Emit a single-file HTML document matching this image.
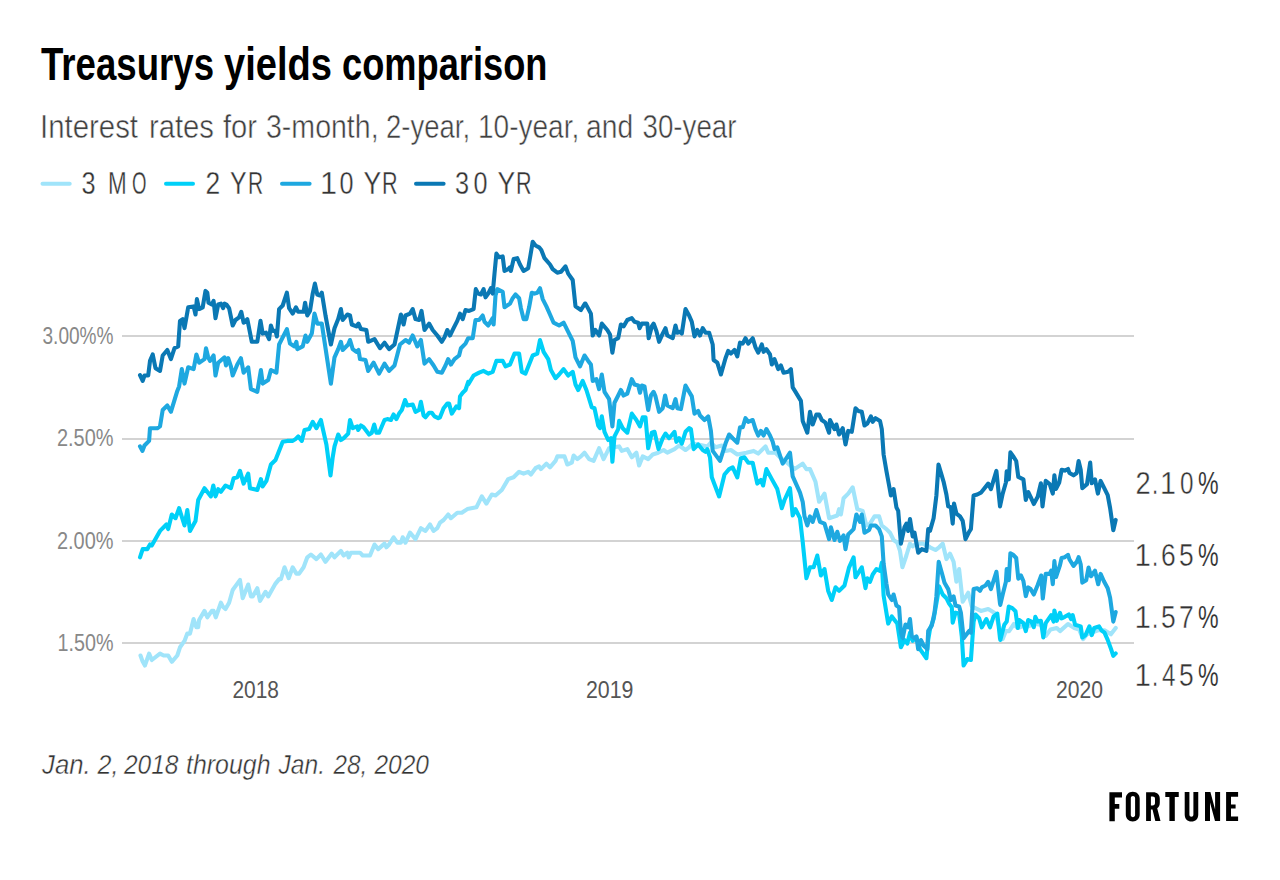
<!DOCTYPE html>
<html><head><meta charset="utf-8">
<style>
html,body{margin:0;padding:0;background:#fff;width:1280px;height:880px;overflow:hidden}
svg{display:block}
text{font-family:"Liberation Sans",sans-serif}
</style></head><body>
<svg width="1280" height="880" viewBox="0 0 1280 880">
<rect width="1280" height="880" fill="#fff"/>
<g stroke-width="4" stroke-linecap="round">
<line x1="42.5" y1="183.7" x2="69.7" y2="183.7" stroke="#a0e4fa"/>
<line x1="166" y1="183.7" x2="193" y2="183.7" stroke="#00d0f8"/>
<line x1="282" y1="183.7" x2="309.6" y2="183.7" stroke="#1ea8e0"/>
<line x1="416" y1="183.7" x2="443.6" y2="183.7" stroke="#0a78b4"/>
</g>
<g fill="#d3d3d3">
<rect x="122" y="335" width="1012" height="2"/>
<rect x="122" y="438" width="1012" height="2"/>
<rect x="122" y="540" width="1012" height="2"/>
<rect x="122" y="642" width="1012" height="2"/>
</g>
<text x="41.0" y="80.0" font-size="46.4" font-weight="bold" fill="#000" textLength="173.0" lengthAdjust="spacingAndGlyphs">Treasurys</text>
<text x="224.0" y="80.0" font-size="46.4" font-weight="bold" fill="#000" textLength="108.0" lengthAdjust="spacingAndGlyphs">yields</text>
<text x="342.0" y="80.0" font-size="46.4" font-weight="bold" fill="#000" textLength="205.5" lengthAdjust="spacingAndGlyphs">comparison</text>
<text x="40.0" y="137.8" font-size="32.5" fill="#404040" stroke="#fff" stroke-width="0.5" textLength="98.0" lengthAdjust="spacingAndGlyphs">Interest</text>
<text x="149.0" y="137.8" font-size="32.5" fill="#404040" stroke="#fff" stroke-width="0.5" textLength="65.0" lengthAdjust="spacingAndGlyphs">rates</text>
<text x="223.0" y="137.8" font-size="32.5" fill="#404040" stroke="#fff" stroke-width="0.5" textLength="34.0" lengthAdjust="spacingAndGlyphs">for</text>
<text x="266.0" y="137.8" font-size="32.5" fill="#404040" stroke="#fff" stroke-width="0.5" textLength="112.6" lengthAdjust="spacingAndGlyphs">3-month,</text>
<text x="386.0" y="137.8" font-size="32.5" fill="#404040" stroke="#fff" stroke-width="0.5" textLength="84.1" lengthAdjust="spacingAndGlyphs">2-year,</text>
<text x="478.0" y="137.8" font-size="32.5" fill="#404040" stroke="#fff" stroke-width="0.5" textLength="101.2" lengthAdjust="spacingAndGlyphs">10-year,</text>
<text x="586.0" y="137.8" font-size="32.5" fill="#404040" stroke="#fff" stroke-width="0.5" textLength="47.1" lengthAdjust="spacingAndGlyphs">and</text>
<text x="642.5" y="137.8" font-size="32.5" fill="#404040" stroke="#fff" stroke-width="0.5" textLength="94.0" lengthAdjust="spacingAndGlyphs">30-year</text>
<text x="81.5" y="193.9" font-size="31.7" fill="#333" stroke="#fff" stroke-width="0.35" textLength="14.1" lengthAdjust="spacingAndGlyphs">3</text>
<text x="108.0" y="193.9" font-size="31.7" fill="#333" stroke="#fff" stroke-width="0.35" textLength="18.7" lengthAdjust="spacingAndGlyphs">M</text>
<text x="132.0" y="193.9" font-size="31.7" fill="#333" stroke="#fff" stroke-width="0.35" textLength="14.5" lengthAdjust="spacingAndGlyphs">O</text>
<text x="205.5" y="193.9" font-size="31.7" fill="#333" stroke="#fff" stroke-width="0.35" textLength="14.7" lengthAdjust="spacingAndGlyphs">2</text>
<text x="230.0" y="193.9" font-size="31.7" fill="#333" stroke="#fff" stroke-width="0.35" textLength="16.6" lengthAdjust="spacingAndGlyphs">Y</text>
<text x="248.0" y="193.9" font-size="31.7" fill="#333" stroke="#fff" stroke-width="0.35" textLength="15.2" lengthAdjust="spacingAndGlyphs">R</text>
<text x="320.0" y="193.9" font-size="31.7" fill="#333" stroke="#fff" stroke-width="0.35" textLength="17.0" lengthAdjust="spacingAndGlyphs">1</text>
<text x="339.5" y="193.9" font-size="31.7" fill="#333" stroke="#fff" stroke-width="0.35" textLength="14.0" lengthAdjust="spacingAndGlyphs">0</text>
<text x="363.5" y="193.9" font-size="31.7" fill="#333" stroke="#fff" stroke-width="0.35" textLength="17.7" lengthAdjust="spacingAndGlyphs">Y</text>
<text x="382.0" y="193.9" font-size="31.7" fill="#333" stroke="#fff" stroke-width="0.35" textLength="15.6" lengthAdjust="spacingAndGlyphs">R</text>
<text x="455.0" y="193.9" font-size="31.7" fill="#333" stroke="#fff" stroke-width="0.35" textLength="14.1" lengthAdjust="spacingAndGlyphs">3</text>
<text x="473.5" y="193.9" font-size="31.7" fill="#333" stroke="#fff" stroke-width="0.35" textLength="14.0" lengthAdjust="spacingAndGlyphs">0</text>
<text x="497.5" y="193.9" font-size="31.7" fill="#333" stroke="#fff" stroke-width="0.35" textLength="17.7" lengthAdjust="spacingAndGlyphs">Y</text>
<text x="516.0" y="193.9" font-size="31.7" fill="#333" stroke="#fff" stroke-width="0.35" textLength="15.6" lengthAdjust="spacingAndGlyphs">R</text>
<text x="42.5" y="343.6" font-size="23.5" fill="#888" textLength="71.0" lengthAdjust="spacingAndGlyphs">3.00%%</text>
<text x="57.0" y="446.2" font-size="23.5" fill="#888" textLength="56.5" lengthAdjust="spacingAndGlyphs">2.50%</text>
<text x="57.0" y="548.9" font-size="23.5" fill="#888" textLength="56.5" lengthAdjust="spacingAndGlyphs">2.00%</text>
<text x="57.5" y="650.7" font-size="23.5" fill="#888" textLength="56.0" lengthAdjust="spacingAndGlyphs">1.50%</text>
<text x="232.5" y="698.0" font-size="24.7" fill="#555" textLength="46.5" lengthAdjust="spacingAndGlyphs">2018</text>
<text x="586.0" y="698.0" font-size="24.7" fill="#555" textLength="47.5" lengthAdjust="spacingAndGlyphs">2019</text>
<text x="1056.0" y="698.0" font-size="24.7" fill="#555" textLength="47.0" lengthAdjust="spacingAndGlyphs">2020</text>
<text x="1135.5" y="494.0" font-size="30.5" fill="#333" stroke="#fff" stroke-width="0.4" textLength="15.2" lengthAdjust="spacingAndGlyphs">2</text>
<text x="1152.0" y="494.0" font-size="30.5" fill="#333" stroke="#fff" stroke-width="0.4" textLength="6.2" lengthAdjust="spacingAndGlyphs">.</text>
<text x="1160.0" y="494.0" font-size="30.5" fill="#333" stroke="#fff" stroke-width="0.4" textLength="15.9" lengthAdjust="spacingAndGlyphs">1</text>
<text x="1180.0" y="494.0" font-size="30.5" fill="#333" stroke="#fff" stroke-width="0.4" textLength="13.5" lengthAdjust="spacingAndGlyphs">0</text>
<text x="1198.0" y="494.0" font-size="30.5" fill="#333" stroke="#fff" stroke-width="0.1" textLength="20.6" lengthAdjust="spacingAndGlyphs">%</text>
<text x="1134.5" y="566.4" font-size="30.5" fill="#333" stroke="#fff" stroke-width="0.4" textLength="16.4" lengthAdjust="spacingAndGlyphs">1</text>
<text x="1152.0" y="566.4" font-size="30.5" fill="#333" stroke="#fff" stroke-width="0.4" textLength="6.2" lengthAdjust="spacingAndGlyphs">.</text>
<text x="1161.0" y="566.4" font-size="30.5" fill="#333" stroke="#fff" stroke-width="0.4" textLength="14.7" lengthAdjust="spacingAndGlyphs">6</text>
<text x="1179.0" y="566.4" font-size="30.5" fill="#333" stroke="#fff" stroke-width="0.4" textLength="14.7" lengthAdjust="spacingAndGlyphs">5</text>
<text x="1198.0" y="566.4" font-size="30.5" fill="#333" stroke="#fff" stroke-width="0.1" textLength="20.6" lengthAdjust="spacingAndGlyphs">%</text>
<text x="1134.5" y="627.6" font-size="30.5" fill="#333" stroke="#fff" stroke-width="0.4" textLength="16.4" lengthAdjust="spacingAndGlyphs">1</text>
<text x="1152.0" y="627.6" font-size="30.5" fill="#333" stroke="#fff" stroke-width="0.4" textLength="6.2" lengthAdjust="spacingAndGlyphs">.</text>
<text x="1161.0" y="627.6" font-size="30.5" fill="#333" stroke="#fff" stroke-width="0.4" textLength="14.7" lengthAdjust="spacingAndGlyphs">5</text>
<text x="1179.0" y="627.6" font-size="30.5" fill="#333" stroke="#fff" stroke-width="0.4" textLength="14.7" lengthAdjust="spacingAndGlyphs">7</text>
<text x="1198.0" y="627.6" font-size="30.5" fill="#333" stroke="#fff" stroke-width="0.1" textLength="20.6" lengthAdjust="spacingAndGlyphs">%</text>
<text x="1134.5" y="685.8" font-size="30.5" fill="#333" stroke="#fff" stroke-width="0.4" textLength="16.4" lengthAdjust="spacingAndGlyphs">1</text>
<text x="1152.0" y="685.8" font-size="30.5" fill="#333" stroke="#fff" stroke-width="0.4" textLength="6.2" lengthAdjust="spacingAndGlyphs">.</text>
<text x="1162.0" y="685.8" font-size="30.5" fill="#333" stroke="#fff" stroke-width="0.4" textLength="13.5" lengthAdjust="spacingAndGlyphs">4</text>
<text x="1179.0" y="685.8" font-size="30.5" fill="#333" stroke="#fff" stroke-width="0.4" textLength="14.7" lengthAdjust="spacingAndGlyphs">5</text>
<text x="1198.0" y="685.8" font-size="30.5" fill="#333" stroke="#fff" stroke-width="0.1" textLength="20.6" lengthAdjust="spacingAndGlyphs">%</text>
<text x="42.0" y="773.8" font-size="27.6" font-style="italic" fill="#333" stroke="#fff" stroke-width="0.4" textLength="48.7" lengthAdjust="spacingAndGlyphs">Jan.</text>
<text x="97.5" y="773.8" font-size="27.6" font-style="italic" fill="#333" stroke="#fff" stroke-width="0.4" textLength="20.9" lengthAdjust="spacingAndGlyphs">2,</text>
<text x="124.0" y="773.8" font-size="27.6" font-style="italic" fill="#333" stroke="#fff" stroke-width="0.4" textLength="54.5" lengthAdjust="spacingAndGlyphs">2018</text>
<text x="186.0" y="773.8" font-size="27.6" font-style="italic" fill="#333" stroke="#fff" stroke-width="0.4" textLength="84.5" lengthAdjust="spacingAndGlyphs">through</text>
<text x="278.5" y="773.8" font-size="27.6" font-style="italic" fill="#333" stroke="#fff" stroke-width="0.4" textLength="46.6" lengthAdjust="spacingAndGlyphs">Jan.</text>
<text x="333.5" y="773.8" font-size="27.6" font-style="italic" fill="#333" stroke="#fff" stroke-width="0.4" textLength="33.7" lengthAdjust="spacingAndGlyphs">28,</text>
<text x="374.5" y="773.8" font-size="27.6" font-style="italic" fill="#333" stroke="#fff" stroke-width="0.4" textLength="54.5" lengthAdjust="spacingAndGlyphs">2020</text>
<path d="M140.5,655.5 L142.4,660.9 L144.9,665.5 L149.1,653.6 L151.8,660.0 L160.0,653.6 L163.6,655.5 L168.2,655.5 L171.8,661.8 L177.3,655.5 L180.0,647.3 L184.5,640.9 L187.3,633.6 L190.0,633.6 L193.6,619.1 L196.4,627.3 L198.2,627.3 L199.1,620.0 L204.5,610.9 L207.3,617.3 L211.8,610.9 L213.6,610.9 L215.8,617.3 L220.9,602.7 L222.7,606.4 L225.5,609.1 L229.1,602.7 L232.7,590.0 L237.3,583.6 L240.0,580.0 L242.7,598.2 L248.2,584.5 L250.9,596.4 L252.7,596.4 L257.3,588.2 L260.0,600.9 L265.5,591.8 L268.2,596.4 L275.5,583.6 L279.1,579.1 L280.9,579.1 L284.5,567.3 L288.7,578.2 L292.7,567.3 L296.4,573.6 L299.1,573.6 L303.6,567.3 L307.3,557.3 L310.9,554.5 L316.4,559.1 L320.9,554.5 L325.5,561.8 L331.8,553.6 L334.5,557.3 L340.9,550.9 L343.6,555.5 L347.3,552.7 L348.7,557.3 L350.9,552.7 L360.0,552.7 L362.7,555.5 L370.0,555.5 L374.5,544.5 L378.2,549.1 L384.5,543.6 L386.4,547.3 L389.1,544.5 L393.6,537.3 L397.3,542.7 L400.9,542.7 L402.7,537.3 L405.5,542.7 L410.0,532.7 L415.5,539.1 L420.9,528.2 L425.5,530.9 L430.0,524.5 L433.6,530.9 L437.3,528.2 L440.0,522.7 L443.6,520.0 L448.2,514.5 L450.9,518.2 L457.3,512.7 L461.8,512.7 L467.3,509.1 L476.4,507.3 L481.8,496.4 L486.4,503.6 L491.8,494.5 L495.5,495.5 L501.8,490.0 L508.2,479.1 L513.6,477.3 L519.1,471.8 L523.6,473.6 L528.2,471.8 L530.9,474.5 L535.5,468.2 L539.1,466.4 L540.9,469.1 L546.4,463.6 L550.0,467.3 L555.5,460.9 L557.3,456.4 L564.5,456.4 L567.3,464.5 L571.8,462.7 L573.6,455.5 L577.3,459.1 L580.9,456.4 L584.5,452.7 L589.1,459.1 L593.6,460.9 L599.1,448.2 L603.6,459.1 L609.1,448.2 L613.6,447.3 L619.1,446.4 L621.8,450.9 L627.3,449.1 L631.8,457.3 L636.4,452.7 L639.1,465.5 L642.7,456.4 L648.2,459.1 L652.7,454.5 L658.2,452.7 L663.6,450.0 L667.3,452.7 L674.5,449.1 L679.1,445.5 L685.5,450.0 L689.1,447.3 L692.7,443.6 L698.2,444.5 L707.3,446.4 L710.9,442.7 L715.5,447.3 L721.8,445.5 L725.5,450.9 L730.9,450.0 L737.3,454.5 L746.4,452.7 L753.6,450.9 L758.2,453.6 L765.5,446.4 L768.2,452.7 L775.5,452.7 L780.9,458.2 L788.2,463.6 L794.5,469.1 L802.7,463.6 L806.4,469.1 L810.0,469.1 L815.5,481.8 L819.1,501.8 L824.5,493.6 L829.1,518.2 L837.3,515.5 L839.1,509.1 L840.9,514.5 L843.6,498.2 L848.2,493.6 L852.7,487.3 L857.3,509.1 L862.7,510.9 L866.4,525.5 L870.0,523.6 L874.5,516.4 L879.1,516.4 L881.8,525.5 L886.4,529.1 L890.0,532.7 L893.6,540.0 L897.3,542.7 L900.0,550.9 L902.4,567.3 L906.4,555.5 L910.0,543.6 L912.7,546.4 L916.4,543.6 L922.7,543.6 L927.3,545.5 L930.0,547.3 L935.5,550.0 L939.1,547.3 L942.7,543.6 L946.4,559.1 L950.0,553.6 L953.6,561.8 L956.4,581.8 L959.1,569.1 L962.7,601.8 L968.2,592.7 L971.8,606.4 L977.3,609.1 L980.9,610.9 L988.2,609.1 L995.5,613.6 L1002.7,639.1 L1005.9,631.1 L1009.1,631.1 L1013.9,624.0 L1017.8,628.0 L1022.6,626.4 L1028.2,626.4 L1034.5,624.0 L1040.9,624.8 L1045.7,635.9 L1050.5,629.5 L1056.8,628.0 L1060.0,631.1 L1068.0,624.0 L1074.3,628.0 L1079.1,629.5 L1083.1,639.1 L1087.0,634.3 L1091.8,632.7 L1098.2,630.3 L1104.5,630.3 L1110.9,634.3 L1115.7,628.0" fill="none" stroke="#a0e4fa" stroke-width="4.1" stroke-linejoin="round" stroke-linecap="round"/>
<path d="M140.0,557.3 L142.7,549.1 L147.3,549.1 L150.0,544.5 L151.8,545.5 L160.0,530.9 L166.4,524.5 L168.2,529.1 L171.8,514.5 L175.5,518.2 L179.1,508.2 L184.5,525.5 L187.3,510.0 L190.0,530.9 L195.5,520.9 L198.2,500.0 L204.5,488.2 L210.9,496.4 L213.3,485.5 L215.5,496.4 L218.2,489.1 L220.9,491.8 L225.5,485.5 L230.9,488.2 L233.6,478.2 L237.3,477.3 L240.0,470.9 L243.6,483.6 L248.2,473.6 L250.0,488.2 L257.3,490.0 L260.9,479.1 L262.7,486.4 L266.4,480.9 L270.9,464.5 L275.5,460.0 L282.7,441.8 L287.3,440.9 L292.7,440.9 L295.5,439.1 L298.2,436.4 L301.8,440.9 L304.5,430.0 L309.1,429.1 L312.7,421.8 L316.4,428.2 L320.9,420.0 L322.7,428.2 L326.4,444.5 L330.5,475.5 L332.7,457.3 L334.5,446.4 L338.2,434.5 L340.9,440.0 L343.6,438.2 L348.2,433.6 L350.0,420.0 L352.7,428.2 L357.3,426.4 L358.2,430.0 L360.9,425.5 L363.6,427.3 L369.1,434.5 L371.8,432.7 L374.2,424.5 L376.4,432.7 L379.1,432.7 L384.5,420.0 L387.3,419.1 L390.9,420.0 L393.6,414.5 L396.4,419.1 L399.1,413.6 L401.8,410.0 L405.1,400.0 L407.3,405.5 L412.7,404.5 L415.5,411.8 L419.1,410.0 L420.9,401.8 L423.6,415.5 L425.5,417.3 L429.1,412.7 L431.8,412.7 L434.5,416.4 L438.2,418.2 L440.0,417.3 L443.6,408.2 L447.3,403.6 L449.1,403.6 L451.8,413.6 L456.4,406.4 L459.1,408.2 L460.0,396.4 L462.7,392.7 L465.5,390.0 L468.2,381.8 L468.2,384.5 L473.6,375.5 L479.1,372.7 L483.6,370.9 L488.2,373.6 L492.7,371.8 L496.4,360.9 L502.7,360.9 L505.5,366.4 L510.0,364.5 L514.5,353.6 L519.1,353.6 L521.8,371.8 L525.5,373.6 L529.1,364.5 L532.7,355.5 L537.3,353.6 L540.0,340.0 L543.6,351.8 L548.2,359.1 L550.9,370.0 L555.5,378.2 L559.1,374.5 L563.6,369.1 L568.2,375.5 L572.7,371.8 L575.5,384.5 L578.2,390.0 L582.7,380.9 L586.4,390.0 L591.8,407.3 L594.5,408.2 L598.2,425.5 L600.0,428.2 L601.8,416.4 L604.5,431.8 L608.2,440.0 L610.9,438.2 L612.4,461.8 L614.5,436.4 L618.2,429.1 L619.1,420.9 L622.7,428.2 L627.3,432.7 L631.8,413.6 L636.4,420.0 L640.0,426.4 L642.7,417.3 L645.5,417.3 L648.2,448.2 L651.8,432.7 L654.5,431.8 L658.5,449.1 L662.7,438.2 L665.5,433.6 L669.1,438.2 L674.5,431.8 L676.4,441.8 L679.1,438.2 L681.8,443.6 L685.5,431.8 L689.1,428.2 L690.9,429.1 L693.6,449.1 L698.2,444.5 L702.7,450.0 L705.5,451.8 L707.3,449.1 L710.0,457.3 L711.8,477.3 L719.1,496.4 L724.5,474.5 L729.1,469.1 L732.7,467.3 L737.3,477.3 L740.9,458.2 L744.5,457.3 L748.2,462.7 L752.7,462.7 L757.3,483.6 L760.9,480.0 L763.1,485.5 L766.4,469.1 L771.8,479.1 L777.3,489.1 L781.8,508.2 L784.5,500.0 L790.0,488.2 L792.7,515.5 L795.5,509.1 L800.0,518.2 L802.7,541.8 L806.4,578.2 L810.0,567.3 L813.6,567.3 L817.3,555.5 L820.9,575.5 L824.5,569.1 L828.2,590.9 L831.8,600.0 L835.5,587.3 L839.1,590.9 L844.5,585.5 L849.1,567.3 L853.6,557.3 L855.5,577.3 L861.8,567.3 L865.5,588.2 L867.3,578.2 L870.0,581.8 L872.7,574.5 L876.4,569.1 L880.0,570.9 L881.8,562.7 L883.6,595.5 L886.4,612.7 L888.2,623.6 L891.8,616.4 L894.5,620.0 L897.3,623.6 L900.9,647.3 L904.5,640.0 L907.3,643.6 L910.0,632.7 L912.7,640.9 L916.4,637.3 L920.0,649.1 L926.4,658.2 L928.2,640.0 L930.0,629.1 L933.6,619.1 L937.3,598.2 L939.1,586.4 L942.7,594.5 L946.4,598.2 L949.1,603.6 L951.8,607.3 L952.7,622.7 L955.5,612.7 L959.1,613.6 L961.8,636.4 L963.6,665.5 L967.3,659.1 L970.9,660.0 L973.6,621.8 L975.5,614.5 L979.1,618.2 L981.8,627.3 L986.4,619.1 L990.0,627.3 L993.6,616.4 L997.3,613.6 L1000.0,638.2 L1000.3,639.9 L1004.3,624.8 L1006.7,621.6 L1008.8,606.5 L1012.3,608.1 L1015.5,611.2 L1017.8,628.0 L1019.4,620.0 L1023.4,623.2 L1025.8,631.1 L1028.2,620.0 L1031.4,621.6 L1033.8,627.2 L1035.3,616.8 L1037.7,621.6 L1040.9,620.8 L1043.3,637.5 L1045.7,623.2 L1051.2,615.2 L1053.6,621.6 L1054.4,610.5 L1056.8,620.8 L1060.0,612.8 L1061.6,618.4 L1064.8,616.8 L1068.8,614.4 L1071.1,619.2 L1072.7,615.2 L1075.1,624.8 L1080.7,626.4 L1082.3,637.5 L1085.5,635.1 L1089.4,626.4 L1091.8,635.1 L1094.2,628.0 L1099.0,626.4 L1101.4,630.3 L1104.5,632.7 L1107.7,639.9 L1110.9,648.6 L1113.3,655.8 L1115.7,653.4" fill="none" stroke="#00d0f8" stroke-width="4.1" stroke-linejoin="round" stroke-linecap="round"/>
<path d="M140.0,446.4 L142.4,450.9 L144.5,445.5 L149.1,440.9 L150.0,428.2 L153.6,428.2 L157.3,428.2 L160.0,426.4 L162.7,410.0 L167.3,405.5 L170.9,411.8 L177.3,390.9 L179.1,386.4 L181.8,369.1 L184.5,383.6 L188.2,367.3 L193.6,369.1 L196.4,354.5 L199.1,362.7 L204.5,359.1 L206.0,348.2 L208.2,357.3 L210.0,360.9 L213.6,355.5 L215.5,375.5 L218.2,362.7 L224.5,357.3 L226.0,365.5 L228.2,358.2 L230.9,366.4 L232.7,375.5 L237.3,364.5 L240.9,358.2 L243.6,372.7 L248.2,367.3 L250.9,389.1 L257.3,391.8 L260.9,370.0 L262.7,383.6 L268.2,380.0 L270.9,370.0 L276.4,372.7 L279.1,344.5 L286.9,329.1 L290.0,343.6 L294.5,346.4 L296.4,341.8 L297.3,349.1 L302.7,346.4 L305.5,335.5 L307.3,341.8 L311.8,333.6 L314.5,313.6 L317.3,323.6 L321.8,323.6 L330.9,383.6 L334.5,357.3 L338.2,349.1 L340.9,341.8 L342.7,350.0 L348.2,344.5 L350.0,340.0 L352.7,349.1 L356.4,351.8 L358.5,350.0 L360.0,359.1 L365.5,360.0 L368.2,370.9 L373.6,362.7 L379.1,373.6 L384.5,363.6 L389.1,370.9 L394.5,365.5 L400.0,344.5 L405.5,340.0 L409.1,342.7 L412.7,335.5 L417.3,346.4 L420.9,340.0 L424.5,363.6 L429.1,359.1 L433.6,365.5 L437.3,371.8 L441.8,372.7 L445.5,365.5 L448.2,359.1 L450.9,364.5 L454.5,359.1 L459.1,355.5 L460.9,348.2 L465.5,343.6 L468.2,338.2 L472.7,338.2 L475.5,320.0 L479.1,320.0 L482.7,315.5 L484.5,321.8 L488.2,325.5 L492.7,318.2 L493.6,324.5 L495.5,295.5 L497.3,289.1 L502.7,291.8 L504.5,307.3 L510.0,303.6 L512.7,298.2 L515.5,294.5 L519.1,298.2 L520.9,308.2 L523.6,319.1 L526.4,319.1 L529.1,307.3 L531.8,292.7 L534.5,293.6 L537.3,292.7 L540.0,288.2 L542.7,299.1 L546.4,306.4 L550.0,314.5 L553.6,322.7 L559.1,325.5 L563.6,322.7 L568.2,331.8 L572.7,340.9 L575.5,357.3 L580.0,366.4 L584.5,355.5 L588.2,360.9 L590.9,364.5 L592.7,380.9 L596.4,379.1 L599.1,389.1 L601.8,374.5 L604.5,391.8 L609.1,399.1 L612.4,426.4 L614.5,402.7 L618.2,395.5 L620.9,390.0 L623.6,395.5 L627.3,393.6 L631.8,379.1 L634.5,384.5 L638.2,385.5 L640.0,392.7 L641.8,385.5 L644.5,386.4 L648.2,410.0 L650.9,395.5 L653.6,391.8 L655.5,396.4 L659.1,411.8 L662.7,408.2 L665.1,395.5 L667.3,405.5 L672.7,408.2 L675.5,399.1 L677.3,408.2 L680.9,409.1 L685.5,385.5 L689.1,391.8 L691.8,396.4 L694.5,413.6 L698.2,410.9 L700.0,415.5 L704.5,420.0 L708.2,416.4 L710.9,430.9 L712.7,450.9 L720.0,460.9 L725.5,443.6 L729.1,434.5 L732.7,438.2 L737.3,442.7 L740.0,427.3 L742.7,427.3 L745.5,418.2 L748.2,421.8 L752.7,420.0 L755.5,429.1 L758.2,435.5 L760.9,430.9 L763.6,435.5 L766.4,429.1 L770.0,435.5 L772.7,441.8 L774.5,449.1 L777.3,447.3 L782.7,463.6 L786.4,458.2 L790.0,452.7 L792.7,476.4 L800.0,492.7 L802.7,501.8 L804.5,516.4 L807.3,525.5 L810.0,516.4 L812.7,521.8 L816.4,510.0 L820.0,521.8 L824.5,523.6 L829.1,539.1 L830.9,527.3 L834.5,540.0 L837.3,531.8 L840.0,540.9 L843.6,535.5 L845.5,549.1 L848.2,534.5 L853.6,529.1 L856.4,514.5 L860.0,521.8 L861.8,514.5 L864.5,532.7 L869.1,530.0 L870.9,525.5 L875.5,525.5 L879.1,529.1 L881.8,536.4 L883.6,563.6 L886.4,583.6 L888.2,594.5 L891.8,600.0 L893.6,594.5 L896.4,605.5 L899.1,607.3 L900.9,632.7 L902.7,638.2 L905.5,624.5 L908.2,627.3 L910.0,619.1 L911.8,636.4 L914.5,638.2 L916.4,636.4 L918.2,649.1 L920.9,640.0 L923.6,645.5 L927.3,649.1 L928.2,630.9 L931.8,625.5 L934.5,612.7 L936.4,596.4 L938.7,561.8 L941.8,572.7 L944.5,582.7 L948.2,589.1 L950.9,600.0 L953.6,596.4 L955.5,605.5 L959.1,606.4 L960.9,612.7 L963.6,638.2 L969.1,630.9 L970.9,632.7 L973.6,589.1 L977.3,588.2 L980.0,590.9 L981.8,587.3 L985.5,585.5 L988.2,581.8 L990.9,589.1 L996.4,571.8 L1000.0,603.6 L1000.3,604.9 L1002.7,594.5 L1005.9,581.8 L1006.7,569.1 L1008.8,580.2 L1010.4,553.2 L1013.1,554.8 L1016.2,558.0 L1018.3,578.6 L1021.0,575.5 L1023.4,581.0 L1025.8,596.1 L1028.2,587.4 L1030.6,589.0 L1033.8,594.5 L1037.7,585.0 L1041.2,575.5 L1042.8,598.5 L1045.7,573.9 L1049.7,573.9 L1051.2,570.7 L1052.8,584.2 L1054.4,561.1 L1056.0,577.0 L1060.0,565.1 L1061.6,558.0 L1064.8,557.2 L1068.0,554.8 L1069.5,559.5 L1073.5,565.9 L1076.7,561.9 L1078.6,557.2 L1080.7,564.3 L1082.3,582.6 L1086.2,580.2 L1088.6,567.5 L1091.0,576.2 L1095.0,570.7 L1098.2,584.2 L1100.6,573.9 L1103.8,581.0 L1107.7,588.2 L1110.1,597.7 L1113.3,621.6 L1115.7,612.0" fill="none" stroke="#1ea8e0" stroke-width="4.1" stroke-linejoin="round" stroke-linecap="round"/>
<path d="M140.0,375.1 L142.7,380.9 L144.5,375.5 L148.2,375.5 L150.0,360.9 L152.7,354.5 L155.5,368.2 L160.0,370.9 L162.7,355.5 L167.3,350.0 L170.9,359.1 L174.5,348.2 L178.2,346.4 L180.0,320.9 L182.7,319.1 L184.5,328.2 L188.2,307.3 L193.6,306.4 L195.5,314.5 L196.9,299.1 L199.1,309.1 L202.7,307.3 L205.5,290.9 L207.3,292.7 L208.5,302.7 L211.8,304.5 L213.6,300.9 L215.5,318.2 L218.2,304.5 L220.9,303.6 L223.1,308.2 L224.5,303.6 L226.4,304.5 L229.1,308.2 L232.7,325.5 L235.5,320.0 L239.1,317.3 L241.3,311.8 L243.6,322.7 L247.3,319.1 L251.8,341.8 L257.3,341.8 L260.5,320.9 L262.7,333.6 L266.0,332.7 L269.1,339.1 L270.9,325.5 L272.7,330.9 L275.5,330.9 L276.9,336.4 L279.1,309.1 L282.7,305.5 L286.9,292.7 L289.1,308.2 L292.7,313.6 L296.0,307.3 L298.2,311.8 L303.6,311.8 L305.1,302.7 L307.3,315.5 L310.0,310.9 L312.7,293.6 L314.9,283.6 L317.3,294.5 L320.0,295.5 L321.8,292.7 L325.5,315.5 L330.9,344.5 L334.5,328.2 L338.2,319.1 L340.9,309.1 L342.7,320.0 L347.3,314.5 L350.0,315.5 L351.8,324.5 L356.4,326.4 L358.5,323.6 L360.9,329.1 L366.4,330.0 L368.2,341.8 L374.5,339.1 L380.0,348.2 L384.5,342.7 L389.1,349.1 L394.5,344.5 L400.9,314.5 L403.6,324.5 L405.5,315.5 L410.0,313.6 L412.7,309.1 L415.5,319.1 L419.1,320.0 L421.5,310.9 L424.5,330.0 L429.1,323.6 L432.7,330.0 L437.3,335.5 L441.8,341.8 L444.5,337.3 L447.3,330.0 L450.0,335.5 L453.6,328.2 L457.3,320.9 L460.0,313.6 L462.7,319.1 L465.5,310.0 L469.1,310.9 L473.6,309.1 L475.8,289.1 L478.2,293.6 L480.9,294.5 L483.6,289.1 L485.5,297.3 L488.2,293.6 L490.9,288.2 L492.7,293.6 L494.5,273.6 L496.4,253.6 L499.1,257.3 L502.7,256.4 L504.5,270.9 L508.2,269.1 L510.0,267.3 L510.9,270.9 L513.6,259.1 L517.3,258.2 L520.0,264.5 L523.6,270.9 L528.2,268.2 L530.4,255.5 L532.7,241.8 L535.5,245.5 L539.1,247.3 L541.3,250.0 L544.5,258.2 L550.0,264.5 L552.7,269.1 L557.3,272.7 L560.9,271.8 L565.5,266.4 L568.2,273.6 L572.7,280.0 L575.5,306.4 L580.9,310.0 L584.9,303.6 L585.5,303.6 L590.9,313.6 L592.7,335.5 L595.5,330.0 L599.1,335.5 L601.8,323.6 L607.3,330.0 L610.0,334.5 L612.4,352.7 L614.5,340.0 L618.2,338.2 L620.9,324.5 L623.6,326.4 L627.3,320.0 L631.8,318.2 L634.5,321.8 L638.2,322.7 L639.6,328.2 L641.8,323.6 L647.3,323.6 L648.7,338.2 L651.8,326.4 L653.6,323.6 L656.4,330.9 L659.1,341.8 L662.7,333.6 L665.5,328.2 L667.3,335.5 L672.7,338.2 L675.5,325.5 L677.3,332.7 L680.0,331.8 L681.8,333.6 L685.5,309.1 L689.1,315.5 L691.8,321.8 L694.5,336.4 L697.3,330.0 L700.0,335.5 L702.7,328.2 L705.5,332.7 L709.1,332.7 L712.7,344.5 L713.6,360.0 L717.3,362.7 L720.9,374.5 L725.5,358.2 L728.2,350.9 L730.9,353.6 L734.5,350.0 L737.3,356.4 L740.0,342.7 L742.7,343.6 L745.5,338.2 L748.2,343.6 L752.7,338.2 L755.5,347.3 L758.2,352.7 L761.8,344.5 L763.6,351.8 L766.4,349.1 L770.0,354.5 L771.8,364.5 L774.5,359.1 L778.2,369.1 L780.9,365.5 L783.6,372.7 L788.2,371.8 L790.9,369.1 L792.7,387.3 L795.5,391.8 L800.9,400.9 L802.7,420.9 L807.3,432.7 L810.0,411.8 L812.7,424.5 L816.4,414.5 L819.1,414.5 L821.8,420.0 L825.5,422.7 L829.1,432.7 L830.0,420.0 L831.8,423.6 L834.5,429.1 L836.4,424.5 L839.1,434.5 L842.7,428.2 L845.5,444.5 L848.2,430.9 L851.8,431.8 L855.5,408.2 L858.2,410.9 L861.8,411.8 L864.5,425.5 L867.3,423.6 L870.9,416.4 L872.7,421.8 L875.5,418.2 L880.0,420.9 L881.8,429.1 L883.6,454.5 L886.4,470.9 L889.1,485.5 L890.9,495.5 L893.6,489.1 L896.4,507.3 L898.2,510.9 L900.9,543.6 L904.5,527.3 L906.4,523.6 L908.2,530.9 L910.0,519.1 L912.7,536.4 L914.5,532.7 L918.2,552.7 L921.8,549.1 L926.4,550.9 L928.2,529.1 L930.0,530.9 L933.6,518.2 L936.4,495.5 L938.5,464.5 L940.9,472.7 L943.6,481.8 L946.4,494.5 L948.2,506.4 L950.9,507.3 L952.7,523.6 L954.0,503.6 L956.4,513.6 L960.0,516.4 L962.7,520.9 L965.5,539.1 L969.1,531.8 L970.9,529.1 L973.6,495.5 L977.3,494.5 L980.9,492.7 L988.2,483.6 L990.9,489.1 L996.4,470.9 L1000.0,506.4 L1002.7,493.6 L1005.9,482.5 L1006.7,471.4 L1008.8,479.3 L1010.4,452.3 L1013.1,456.2 L1016.2,461.0 L1018.3,476.9 L1023.4,479.3 L1025.8,500.0 L1028.2,492.0 L1030.6,496.8 L1033.8,504.0 L1037.7,496.8 L1040.9,483.3 L1042.5,506.4 L1045.7,480.9 L1049.7,484.1 L1052.8,493.6 L1054.4,475.3 L1056.0,488.9 L1059.2,482.5 L1061.6,469.8 L1064.8,470.6 L1068.0,469.0 L1069.5,473.0 L1073.5,475.3 L1076.7,473.0 L1078.6,461.0 L1080.7,469.8 L1082.3,488.1 L1087.0,484.1 L1090.2,462.6 L1091.8,483.3 L1095.0,479.3 L1097.9,493.6 L1100.6,480.9 L1103.0,485.7 L1107.7,495.2 L1110.1,508.0 L1113.3,530.2 L1115.7,519.9" fill="none" stroke="#0a78b4" stroke-width="4.1" stroke-linejoin="round" stroke-linecap="round"/>
<g fill="#000">
<path d="M1109.4,792.2H1122V797.5H1114.8V804H1119.3V808.7H1114.8V821.2H1109.4Z"/>
<path fill-rule="evenodd" d="M1132.75,791.7C1136.8,791.7 1139.7,794.5 1139.7,798.6V814.6C1139.7,818.7 1136.8,821.5 1132.75,821.5C1128.7,821.5 1125.8,818.7 1125.8,814.6V798.6C1125.8,794.5 1128.7,791.7 1132.75,791.7ZM1132.95,796.1C1131.8,796.1 1130.8,796.8 1130.8,798.2V815.1C1130.8,816.5 1131.8,817.2 1132.95,817.2C1134.1,817.2 1135.1,816.5 1135.1,815.1V798.2C1135.1,796.8 1134.1,796.1 1132.95,796.1Z"/>
<path fill-rule="evenodd" d="M1146.1,792.2H1153C1157.3,792.2 1159.8,794.6 1159.8,798.8V802.5C1159.8,805.2 1158.9,807.2 1157.2,808.3L1160.5,821H1155.3L1152.5,809.4H1150.9V821H1146.1ZM1150.9,796.4V805.4H1152.6C1154.2,805.4 1155,804.6 1155,803V798.8C1155,797.2 1154.2,796.4 1152.6,796.4Z"/>
<path d="M1165.3,792.1H1178.75V797H1174.8V820.9H1169.4V797H1165.3Z"/>
<path d="M1184.7,792.1H1189.4V814.6C1189.4,816.2 1190.2,816.8 1191.4,816.8C1192.6,816.8 1193.4,816.2 1193.4,814.6V792.1H1198.25V814.6C1198.25,819 1195.5,821.6 1191.45,821.6C1187.4,821.6 1184.7,819 1184.7,814.6Z"/>
<path d="M1205,792.1H1210.4L1215.1,809.5V792.1H1220.1V820.9H1215L1210,802.5V820.9H1205Z"/>
<path d="M1226.1,792.1H1238.1V796.7H1231V804.4H1235.6V808.5H1231V816.6H1238.1V820.9H1226.1Z"/>
</g>
</svg>
</body></html>
